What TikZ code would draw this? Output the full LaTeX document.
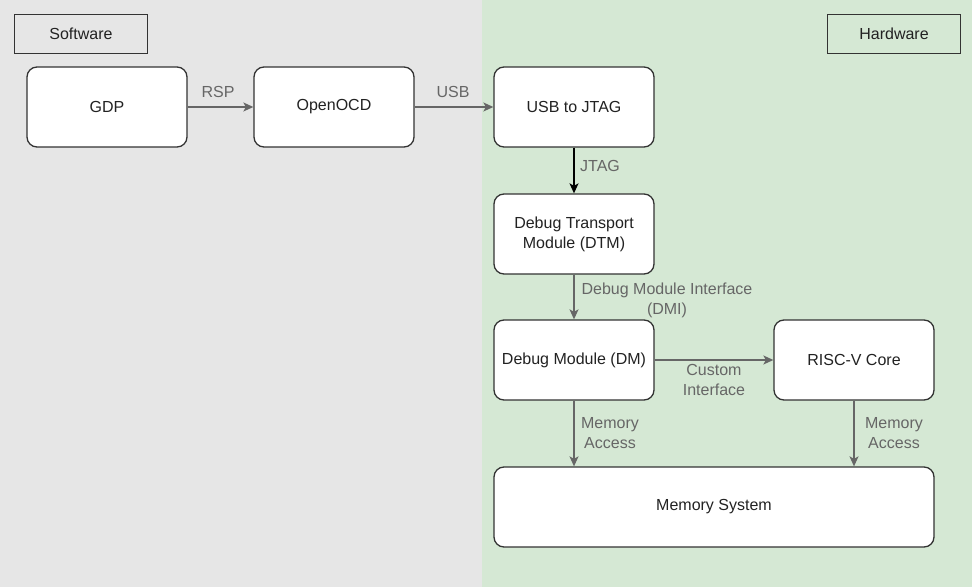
\documentclass[tikz,border=0pt]{standalone}
\usepackage{fontspec}
\setmainfont{Liberation Sans}
\usetikzlibrary{arrows.meta}
\definecolor{swgray}{HTML}{E6E6E6}
\definecolor{hwgreen}{HTML}{D5E8D4}
\definecolor{edgegray}{HTML}{666666}
\definecolor{boxline}{HTML}{333333}
\definecolor{boxtext}{HTML}{222222}

\begin{document}
\begin{tikzpicture}[x=1pt, y=-1pt]
        \tikzstyle{every node}=[font=\fontsize{16}{20}\selectfont, text=boxtext, inner sep=0pt]
        \tikzstyle{block}=[draw=boxline, line width=1.3pt, rounded corners=10pt, fill=white, minimum width=160pt, minimum height=80pt, align=center]
        \tikzstyle{tag}=[draw=boxline, line width=1.3pt, minimum width=133pt, minimum height=39pt]
        \tikzstyle{link}=[draw=edgegray, line width=1.3pt, -{Stealth[length=10pt, width=9pt, inset=2.5pt]}]
        \tikzstyle{lbl}=[text=edgegray, align=center]
        % background regions
        \useasboundingbox (0,0) rectangle (975,588);
        \fill[white] (0,0) rectangle (975,588);
        \fill[swgray] (0,0) rectangle (482,587);
        \fill[hwgreen] (482,0) rectangle (972,587);
        \node [tag] (sw) at (81,34) {Software};
        \node [tag] (hw) at (894,34) {Hardware};
        % blocks
        \node [block] (gdp) at (107,107) {GDP};
        \node [block] (ocd) at (334,107) {OpenOCD};
        \node [block] (u2j) at (574,107) {USB to JTAG};
        \node [block] (dtm) at (574,234) {Debug Transport\\Module (DTM)};
        \node [block] (dm) at (574,360) {Debug Module (DM)};
        \node [block] (core) at (854,360) {RISC-V Core};
        \node [block, minimum width=440pt] (mem) at (714,507) {Memory System};
        % connectors
        \draw [link] (gdp) -- (ocd);
        \draw [link] (ocd) -- (u2j);
        \draw [link, draw=black] (u2j) -- (dtm);
        \draw [link] (dtm) -- (dm);
        \draw [link] (dm) -- (core);
        \draw [link] (dm.south) -- (dm.south |- mem.north);
        \draw [link] (core.south) -- (core.south |- mem.north);
        % labels
        \node [lbl] (rsp) at (218,92) {RSP};
        \node [lbl] (usb) at (453,92) {USB};
        \node [lbl, anchor=west] (jtag) at (580,166) {JTAG};
        \node [lbl] (dmi) at (667,300) {Debug Module Interface\\(DMI)};
        \node [lbl] (cif) at (714,380) {Custom\\Interface};
        \node [lbl] (ma1) at (610,433) {Memory\\Access};
        \node [lbl] (ma2) at (894,433) {Memory\\Access};
    \end{tikzpicture}
\end{document}
